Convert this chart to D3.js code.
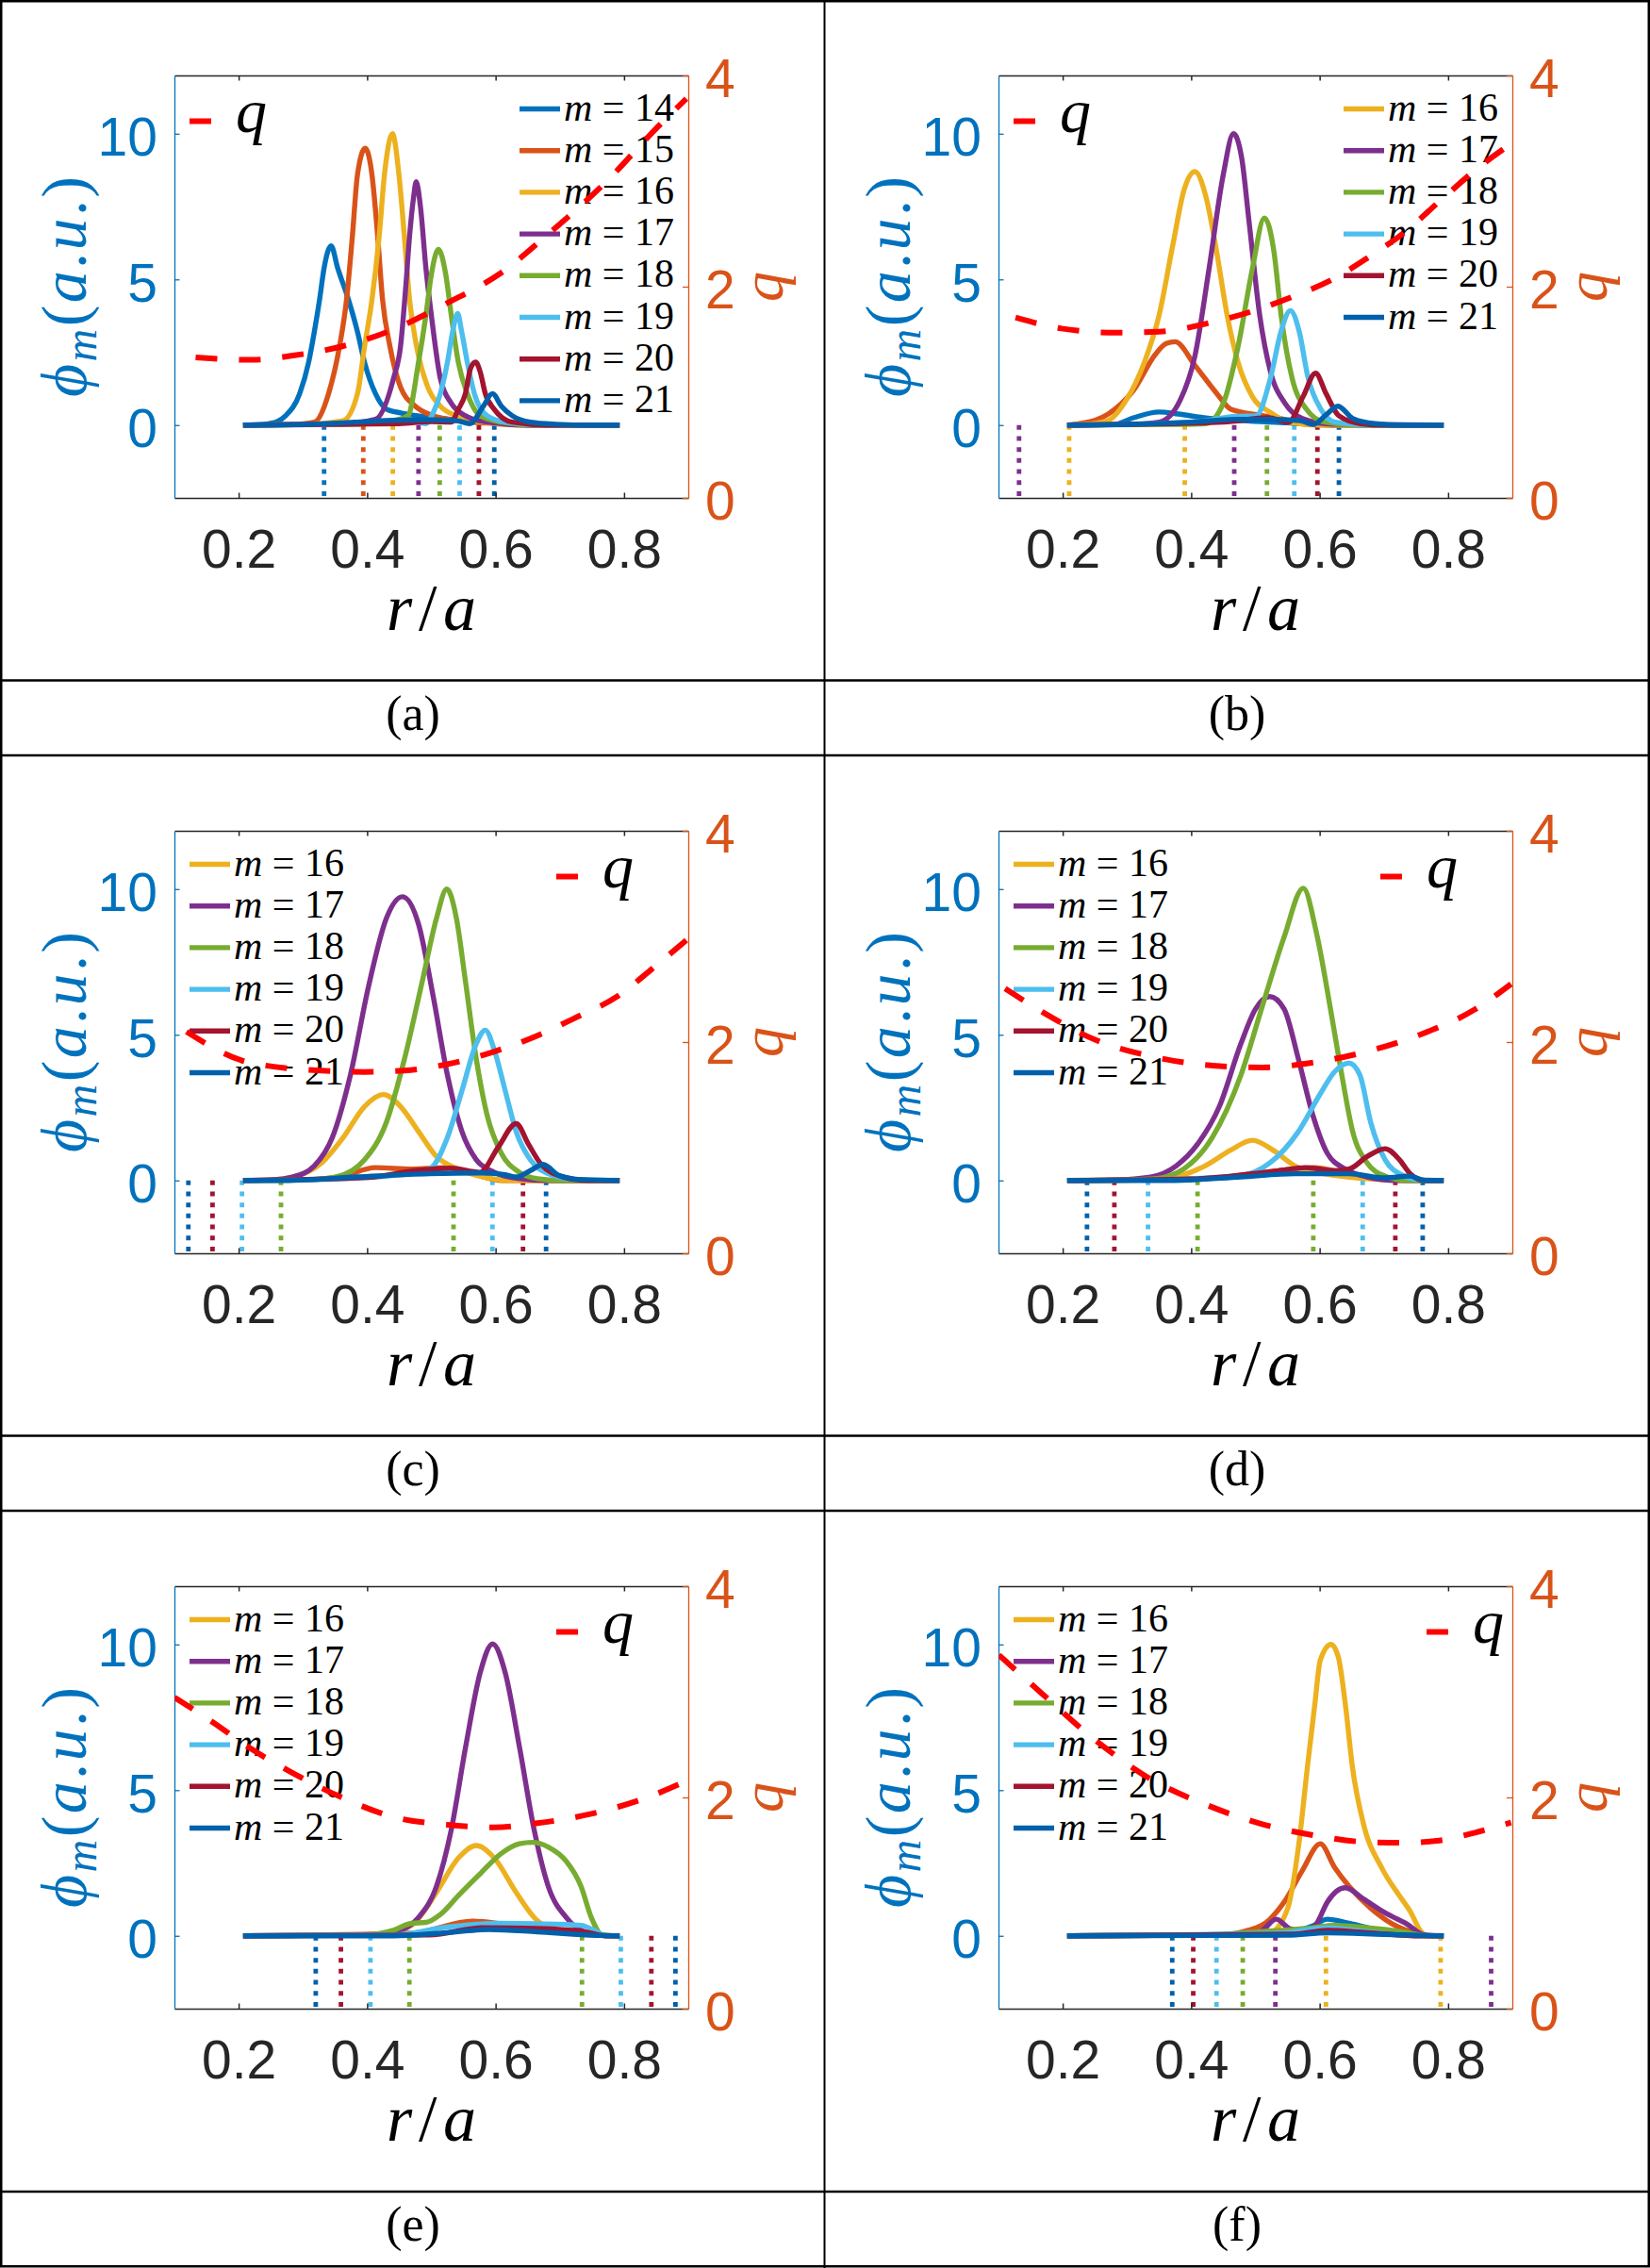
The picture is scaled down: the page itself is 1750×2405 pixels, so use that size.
<!DOCTYPE html>
<html><head><meta charset="utf-8">
<script src="https://cdn.jsdelivr.net/npm/d3@7"></script>
<style>body{margin:0;background:#fff}svg{display:block}</style>
</head><body><svg id="c" width="1750" height="2405"></svg>
<script>
// ---------- data (r/a, phi_m) ----------
const xTicks=[0.2,0.4,0.6,0.8], yTicksL=[0,5,10], yTicksR=[0,2,4];
const mColors={14:"#0072BD",15:"#D95319",16:"#EDB120",17:"#7E2F8E",18:"#77AC30",19:"#4DBEEE",20:"#A2142F",21:"#0060AB"};
const panelLabels=["(a)","(b)","(c)","(d)","(e)","(f)"];

// panel (a)
const A14=[[0.207,0],[0.24,0.03],[0.26,0.12],[0.273,0.32],[0.295,1.08],[0.309,2.16],[0.318,3.23],[0.326,4.31],[0.333,5.39],[0.344,6.15],[0.354,5.4],[0.371,4.3],[0.385,3.2],[0.396,2.15],[0.413,1.08],[0.43,0.55],[0.452,0.42],[0.486,0.3],[0.53,0.2],[0.58,0.12],[0.62,0.05],[0.7,0],[0.793,0]];
const A15=[[0.207,0],[0.28,0.02],[0.318,0.1],[0.34,1.08],[0.357,2.7],[0.368,4.31],[0.377,6.47],[0.385,8.6],[0.397,9.5],[0.4075,8.6],[0.416,6.6],[0.424,4.31],[0.4355,2.7],[0.452,1.3],[0.475,0.65],[0.503,0.32],[0.536,0.16],[0.6,0.05],[0.65,0],[0.793,0]];
const A16=[[0.207,0],[0.3,0.02],[0.3626,0.15],[0.385,1.08],[0.396,2.7],[0.4075,4.3],[0.4187,6.47],[0.427,8.6],[0.4394,10],[0.4495,8.6],[0.458,6.47],[0.466,4.31],[0.477,2.7],[0.4945,1.3],[0.514,0.65],[0.542,0.3],[0.581,0.1],[0.64,0],[0.793,0]];
const A17=[[0.207,0],[0.35,0.02],[0.413,0.2],[0.441,1.6],[0.452,2.7],[0.4605,4.85],[0.466,6.47],[0.472,7.76],[0.4764,8.35],[0.483,7.5],[0.4915,5.39],[0.5,3.77],[0.514,1.6],[0.531,0.75],[0.553,0.32],[0.587,0.1],[0.65,0],[0.793,0]];
const A18=[[0.207,0],[0.38,0.03],[0.44,0.15],[0.4635,0.32],[0.48,2.15],[0.4915,3.77],[0.5,5.17],[0.511,6.03],[0.5224,5.17],[0.531,3.77],[0.542,2.15],[0.556,1.08],[0.576,0.32],[0.609,0.1],[0.66,0],[0.793,0]];
const A19=[[0.207,0],[0.4,0.05],[0.47,0.15],[0.4915,0.05],[0.503,0.43],[0.514,1.08],[0.525,2.15],[0.5333,3.23],[0.541,3.83],[0.547,3.23],[0.556,2.15],[0.567,1.08],[0.587,0.32],[0.615,0.1],[0.67,0],[0.793,0]];
const A20=[[0.207,0],[0.45,0.05],[0.5,0.12],[0.531,0.1],[0.542,0.54],[0.553,1.08],[0.561,1.94],[0.569,2.16],[0.576,1.83],[0.584,1.08],[0.598,0.54],[0.626,0.1],[0.68,0],[0.793,0]];
const A21=[[0.207,0],[0.3,0.02],[0.38,0.1],[0.45,0.17],[0.5,0.18],[0.54,0.15],[0.56,0.05],[0.581,0.65],[0.595,1.08],[0.609,0.65],[0.626,0.32],[0.654,0.1],[0.693,0.03],[0.75,0],[0.793,0]];
const qA=[[0.133,1.33],[0.2217,1.307],[0.287,1.35],[0.361,1.435],[0.4428,1.6],[0.5247,1.845],[0.606,2.12],[0.688,2.53],[0.77,2.98],[0.852,3.51],[0.897,3.78]];
const resA=[[14,0.333],[15,0.394],[16,0.44],[17,0.48],[18,0.513],[19,0.544],[20,0.574],[21,0.598]];

// panel (b)
const B14=[[0.207,0],[0.28,0.02],[0.31,0.25],[0.35,0.45],[0.38,0.38],[0.42,0.25],[0.48,0.15],[0.55,0.08],[0.62,0],[0.793,0]];
const B15=[[0.207,0],[0.226,0.05],[0.271,0.38],[0.31,1.19],[0.344,2.42],[0.361,2.8],[0.375,2.86],[0.4058,2.05],[0.44,1.08],[0.462,0.54],[0.507,0.34],[0.54,0.22],[0.57,0.05],[0.62,0],[0.793,0]];
const B16=[[0.207,0],[0.24,0.03],[0.271,0.16],[0.299,0.86],[0.327,2.15],[0.35,3.77],[0.372,6.25],[0.389,8.08],[0.4058,8.7],[0.4226,7.87],[0.44,5.9],[0.456,3.77],[0.473,2.15],[0.4955,0.97],[0.5235,0.43],[0.5516,0.1],[0.6,0],[0.793,0]];
const B17=[[0.207,0],[0.3,0.02],[0.35,0.1],[0.383,0.86],[0.4058,2.37],[0.428,5.39],[0.45,8.6],[0.4658,10.0],[0.4787,9.16],[0.49,7.0],[0.5067,3.77],[0.5235,1.83],[0.546,0.75],[0.574,0.22],[0.62,0.03],[0.793,0]];
const B18=[[0.207,0],[0.35,0.02],[0.4226,0.05],[0.45,0.75],[0.473,2.7],[0.4955,5.39],[0.514,7.11],[0.529,5.93],[0.54,3.77],[0.557,1.62],[0.5796,0.54],[0.6076,0.1],[0.66,0],[0.793,0]];
const B19=[[0.207,0],[0.4,0.1],[0.47,0.3],[0.501,0.32],[0.5235,1.62],[0.54,3.23],[0.5544,3.93],[0.568,3.23],[0.582,1.62],[0.602,0.54],[0.624,0.1],[0.68,0],[0.793,0]];
const B20=[[0.207,0],[0.45,0.1],[0.52,0.25],[0.5516,0.1],[0.574,0.97],[0.5936,1.78],[0.61,1.08],[0.63,0.32],[0.6637,0.05],[0.7,0],[0.793,0]];
const B21=[[0.207,0],[0.3,0.02],[0.4,0.1],[0.47,0.2],[0.53,0.2],[0.57,0.15],[0.59,0.02],[0.61,0.35],[0.6284,0.65],[0.652,0.22],[0.686,0.05],[0.73,0],[0.793,0]];
const qB=[[0.1265,1.708],[0.198,1.604],[0.2824,1.565],[0.35,1.574],[0.4226,1.649],[0.4955,1.768],[0.5628,1.917],[0.6189,2.065],[0.675,2.274],[0.731,2.51],[0.787,2.81],[0.843,3.107],[0.896,3.345]];
const resB=[[17,0.132],[16,0.21],[16,0.39],[17,0.467],[18,0.518],[19,0.5605],[20,0.5965],[21,0.63]];

// panel (c)
const C15=[[0.207,0],[0.3,0.02],[0.3626,0.15],[0.413,0.44],[0.469,0.39],[0.525,0.44],[0.564,0.23],[0.61,0],[0.793,0]];
const C16=[[0.207,0],[0.25,0.02],[0.284,0.12],[0.329,0.6],[0.3626,1.47],[0.396,2.54],[0.4254,2.95],[0.452,2.54],[0.48,1.68],[0.508,0.82],[0.542,0.39],[0.581,0.12],[0.62,0],[0.793,0]];
const C17=[[0.207,0],[0.25,0.02],[0.284,0.12],[0.3177,0.5],[0.3458,1.47],[0.374,3.62],[0.402,6.64],[0.43,9.0],[0.455,9.74],[0.48,8.8],[0.503,6.3],[0.525,3.62],[0.5476,1.68],[0.57,0.71],[0.598,0.28],[0.637,0.06],[0.68,0],[0.793,0]];
const C18=[[0.207,0],[0.3,0.02],[0.351,0.12],[0.396,0.71],[0.43,2.0],[0.458,4.16],[0.486,6.85],[0.508,9.0],[0.524,10.0],[0.539,9.0],[0.553,6.85],[0.57,4.16],[0.587,2.22],[0.609,0.93],[0.637,0.28],[0.665,0.06],[0.7,0],[0.793,0]];
const C19=[[0.207,0],[0.35,0.05],[0.45,0.2],[0.497,0.39],[0.525,1.47],[0.5476,3.08],[0.57,4.7],[0.584,5.16],[0.598,4.48],[0.615,3.08],[0.632,1.68],[0.654,0.71],[0.682,0.23],[0.721,0.04],[0.793,0]];
const C20=[[0.207,0],[0.4,0.1],[0.48,0.35],[0.53,0.42],[0.5757,0.28],[0.604,1.14],[0.632,1.95],[0.651,1.25],[0.671,0.55],[0.705,0.12],[0.744,0],[0.793,0]];
const C21=[[0.207,0],[0.273,0],[0.385,0.12],[0.497,0.23],[0.58,0.26],[0.615,0.2],[0.632,0.12],[0.655,0.35],[0.6738,0.55],[0.699,0.17],[0.733,0.03],[0.793,0]];
const qC=[[0.1187,2.098],[0.2168,1.806],[0.329,1.73],[0.396,1.717],[0.458,1.73],[0.525,1.79],[0.598,1.91],[0.665,2.06],[0.721,2.22],[0.789,2.43],[0.845,2.70],[0.898,2.97]];
const resC=[[21,0.1217],[20,0.1593],[19,0.2052],[18,0.2659],[18,0.5345],[19,0.5951],[20,0.6427],[21,0.6786]];

// panel (d)
const D15=[[0.207,0],[0.42,0.06],[0.534,0.33],[0.59,0.44],[0.6458,0.23],[0.70,0.04],[0.793,0]];
const D16=[[0.207,0],[0.3,0.02],[0.365,0.09],[0.4215,0.5],[0.4607,1.03],[0.4955,1.38],[0.528,1.03],[0.5616,0.5],[0.6065,0.23],[0.6738,0.06],[0.73,0],[0.793,0]];
const D17=[[0.207,0],[0.28,0.02],[0.337,0.12],[0.3766,0.5],[0.41,1.25],[0.4439,2.54],[0.4775,4.7],[0.5,5.88],[0.5224,6.31],[0.5448,5.88],[0.567,4.16],[0.5897,2.22],[0.612,0.93],[0.64,0.39],[0.674,0.12],[0.72,0],[0.793,0]];
const D18=[[0.207,0],[0.28,0.01],[0.343,0.06],[0.388,0.39],[0.4327,1.47],[0.4775,3.62],[0.511,6.0],[0.5448,8.36],[0.5745,10.03],[0.5953,8.47],[0.6177,5.78],[0.6345,3.62],[0.6514,1.68],[0.674,0.6],[0.702,0.15],[0.735,0],[0.793,0]];
const D19=[[0.207,0],[0.35,0.03],[0.4775,0.17],[0.5224,0.6],[0.567,1.68],[0.6009,2.97],[0.6233,3.73],[0.6458,4.03],[0.6626,3.62],[0.6794,2.0],[0.702,0.71],[0.73,0.17],[0.758,0.02],[0.793,0]];
const D20=[[0.207,0],[0.4,0.05],[0.5336,0.33],[0.5785,0.44],[0.623,0.33],[0.6458,0.39],[0.674,0.82],[0.7018,1.09],[0.7243,0.71],[0.741,0.23],[0.7635,0],[0.793,0]];
const D21=[[0.207,0],[0.365,0],[0.4775,0.12],[0.5616,0.23],[0.6458,0.23],[0.702,0.09],[0.741,0.15],[0.7635,0],[0.793,0]];
const qD=[[0.1103,2.506],[0.169,2.283],[0.253,2.015],[0.3374,1.866],[0.4215,1.783],[0.511,1.759],[0.5897,1.806],[0.674,1.911],[0.758,2.074],[0.842,2.31],[0.898,2.55]];
const resD=[[21,0.2378],[20,0.2804],[19,0.3328],[18,0.4099],[18,0.5901],[19,0.667],[20,0.7178],[21,0.7604]];

// panel (e)
const E15=[[0.207,0],[0.469,0.09],[0.5645,0.5],[0.609,0.41],[0.665,0.19],[0.75,0.03],[0.793,0]];
const E16=[[0.207,0],[0.4,0.02],[0.441,0.11],[0.4747,0.46],[0.508,1.49],[0.542,2.67],[0.57,3.1],[0.598,2.67],[0.632,1.49],[0.665,0.52],[0.699,0.19],[0.749,0.09],[0.772,0],[0.793,0]];
const E17=[[0.207,0],[0.413,0.03],[0.452,0.19],[0.48,0.63],[0.508,1.7],[0.531,3.64],[0.553,6.44],[0.576,9.03],[0.5953,10.02],[0.615,9.03],[0.6375,6.44],[0.66,3.64],[0.682,1.7],[0.71,0.63],[0.738,0.14],[0.766,0.02],[0.793,0]];
const E18=[[0.207,0],[0.396,0.03],[0.441,0.19],[0.469,0.43],[0.4916,0.46],[0.514,0.73],[0.542,1.38],[0.576,2.13],[0.609,2.83],[0.637,3.16],[0.657,3.21],[0.682,3.05],[0.71,2.56],[0.733,1.7],[0.749,0.63],[0.766,0.03],[0.793,0]];
const E19=[[0.207,0],[0.441,0.03],[0.525,0.3],[0.609,0.43],[0.665,0.41],[0.733,0.36],[0.755,0.17],[0.772,0],[0.793,0]];
const E20=[[0.207,0],[0.497,0.03],[0.581,0.28],[0.665,0.25],[0.738,0.14],[0.772,0],[0.793,0]];
const E21=[[0.207,0],[0.44,0],[0.525,0.11],[0.59,0.22],[0.665,0.14],[0.75,0.02],[0.793,0]];
const qE=[[0.1002,2.946],[0.1608,2.708],[0.2168,2.47],[0.284,2.232],[0.3626,1.994],[0.441,1.815],[0.525,1.741],[0.598,1.717],[0.665,1.756],[0.749,1.845],[0.8336,1.994],[0.898,2.158]];
const resE=[[21,0.32],[20,0.3592],[19,0.4052],[18,0.4658],[18,0.7345],[19,0.795],[20,0.8425],[21,0.88]];

// panel (f)
const F14=[[0.207,0],[0.53,0.03],[0.59,0.35],[0.612,0.57],[0.6458,0.43],[0.702,0.14],[0.758,0.02],[0.793,0]];
const F15=[[0.207,0],[0.4495,0.03],[0.4887,0.19],[0.5168,0.46],[0.5448,1.16],[0.573,2.24],[0.601,3.16],[0.6233,2.35],[0.6458,1.7],[0.6794,0.95],[0.713,0.41],[0.7467,0.11],[0.769,0],[0.793,0]];
const F16=[[0.207,0],[0.5,0.02],[0.5224,0.09],[0.5504,0.95],[0.5673,3.1],[0.581,5.8],[0.5925,7.95],[0.601,9.46],[0.6177,10.0],[0.629,9.57],[0.64,7.95],[0.651,5.8],[0.668,3.86],[0.6962,2.35],[0.724,1.38],[0.741,0.84],[0.758,0.14],[0.769,0],[0.793,0]];
const F17=[[0.207,0],[0.4887,0.03],[0.511,0.19],[0.5325,0.57],[0.553,0.25],[0.578,0.15],[0.595,0.41],[0.612,1.16],[0.64,1.65],[0.668,1.27],[0.702,0.79],[0.7355,0.41],[0.7635,0.03],[0.793,0]];
const F18=[[0.207,0],[0.4215,0.03],[0.5056,0.14],[0.59,0.28],[0.6233,0.36],[0.674,0.28],[0.73,0.14],[0.769,0],[0.793,0]];
const F19=[[0.207,0],[0.5336,0.09],[0.612,0.28],[0.674,0.14],[0.758,0],[0.793,0]];
const F20=[[0.207,0],[0.5616,0.06],[0.612,0.19],[0.674,0.11],[0.758,0],[0.793,0]];
const F21=[[0.207,0],[0.55,0.02],[0.612,0.1],[0.7,0.05],[0.793,0]];
const qF=[[0.1008,3.348],[0.169,2.976],[0.2533,2.53],[0.3374,2.172],[0.4215,1.935],[0.5056,1.756],[0.5897,1.643],[0.674,1.577],[0.73,1.571],[0.786,1.592],[0.842,1.667],[0.898,1.762]];
const resF=[[21,0.3705],[20,0.4032],[19,0.4394],[18,0.4803],[17,0.5311],[16,0.6098],[16,0.7883],[17,0.867]];

const legendA=[14,15,16,17,18,19,20,21];
const legendOther=[16,17,18,19,20,21];

// ---------- layout ----------
const colX=[0,874], rowY=[0,801,1602];
const AX={l:185,t:80,w:545,h:448};
const panels=[
 {col:0,row:0,curves:[[14,A14],[15,A15],[16,A16],[17,A17],[18,A18],[19,A19],[20,A20],[21,A21]],q:qA,res:resA,leg:legendA,legX:366,qX:16},
 {col:1,row:0,curves:[[14,B14],[15,B15],[16,B16],[17,B17],[18,B18],[19,B19],[20,B20],[21,B21]],q:qB,res:resB,leg:legendOther,legX:366,qX:16},
 {col:0,row:1,curves:[[15,C15],[16,C16],[17,C17],[18,C18],[19,C19],[20,C20],[21,C21]],q:qC,res:resC,leg:legendOther,legX:16,qX:405},
 {col:1,row:1,curves:[[15,D15],[16,D16],[17,D17],[18,D18],[19,D19],[20,D20],[21,D21]],q:qD,res:resD,leg:legendOther,legX:16,qX:405},
 {col:0,row:2,curves:[[15,E15],[16,E16],[17,E17],[18,E18],[19,E19],[20,E20],[21,E21]],q:qE,res:resE,leg:legendOther,legX:16,qX:405},
 {col:1,row:2,curves:[[14,F14],[15,F15],[16,F16],[17,F17],[18,F18],[19,F19],[20,F20],[21,F21]],q:qF,res:resF,leg:legendOther,legX:16,qX:454}
];

const svg=d3.select("#c");
svg.append("rect").attr("width",1750).attr("height",2405).attr("fill","#fff");

const x=d3.scaleLinear().domain([0.1,0.9]).range([0,AX.w]);
const yL=d3.scaleLinear().domain([-2.5,12]).range([AX.h,0]);
const yR=d3.scaleLinear().domain([0,4]).range([AX.h,0]);
const lineL=d3.line().x(d=>x(d[0])).y(d=>yL(d[1])).curve(d3.curveMonotoneX);
const lineQ=d3.line().x(d=>x(d[0])).y(d=>yR(d[1])).curve(d3.curveMonotoneX);
const SANS="'Liberation Sans', Arial, Helvetica, sans-serif";
const SERIF="'Liberation Serif', 'DejaVu Serif', serif";

panels.forEach((p,i)=>{
  const g=svg.append("g").attr("transform",`translate(${colX[p.col]+AX.l},${rowY[p.row]+AX.t})`);
  const cid="clip"+i;
  g.append("clipPath").attr("id",cid).append("rect").attr("width",AX.w).attr("height",AX.h);
  const pg=g.append("g").attr("clip-path",`url(#${cid})`);
  // resonance dotted lines
  pg.selectAll("line.res").data(p.res).join("line")
    .attr("x1",d=>x(d[1])).attr("x2",d=>x(d[1]))
    .attr("y1",yL(0)).attr("y2",yL(-2.5))
    .attr("stroke",d=>mColors[d[0]]).attr("stroke-width",4.8).attr("stroke-dasharray","5,6.7");
  // mode curves
  pg.selectAll("path.mode").data(p.curves).join("path")
    .attr("d",d=>lineL(d[1])).attr("fill","none")
    .attr("stroke",d=>mColors[d[0]]).attr("stroke-width",5.4).attr("stroke-linejoin","round");

  // axes
  const bx=g.append("g").attr("transform",`translate(0,${AX.h})`)
    .call(d3.axisBottom(x).tickValues(xTicks).tickFormat(d3.format(".1f")).tickSizeInner(-5.5).tickSizeOuter(0));
  bx.selectAll("text").attr("y",74).attr("dy",null).attr("fill","#262626").style("font-family",SANS).style("font-size","57px");
  bx.selectAll("line,path").attr("stroke","#262626").attr("stroke-width",1.5);
  const tx=g.append("g").call(d3.axisTop(x).tickValues(xTicks).tickFormat("").tickSizeInner(-5.5).tickSizeOuter(0));
  tx.selectAll("line,path").attr("stroke","#262626").attr("stroke-width",1.5);
  const ly=g.append("g").call(d3.axisLeft(yL).tickValues(yTicksL).tickFormat(d3.format("d")).tickSizeInner(-5.5).tickSizeOuter(0));
  ly.selectAll("text").attr("x",-18).attr("dy","0.4em").attr("fill","#0072BD").style("font-family",SANS).style("font-size","57px");
  ly.selectAll("line,path").attr("stroke","#0072BD").attr("stroke-width",1.3);
  const ry=g.append("g").attr("transform",`translate(${AX.w},0)`).call(d3.axisRight(yR).tickValues(yTicksR).tickFormat(d3.format("d")).tickSizeInner(-6).tickSizeOuter(0));
  ry.selectAll("text").attr("x",18).attr("dy","0.4em").attr("fill","#D95319").style("font-family",SANS).style("font-size","57px");
  ry.selectAll("line,path").attr("stroke","#D95319").attr("stroke-width",1.3);
  g.selectAll(".domain").attr("fill","none");

  // axis labels (start-anchored so the stretched length stays centred)
  const yl=g.append("text").attr("transform",`translate(-94,${AX.h/2+117}) rotate(-90)`).attr("text-anchor","start")
    .attr("fill","#0072BD").style("font-family",SERIF).style("font-size","68px")
    .attr("textLength",234).attr("lengthAdjust","spacing");
  yl.append("tspan").attr("font-style","italic").text("ϕ");
  yl.append("tspan").attr("font-style","italic").style("font-size","48px").attr("dy",11).text("m");
  yl.append("tspan").attr("dy",-11).text("(");
  yl.append("tspan").attr("font-style","italic").text("a");
  yl.append("tspan").text(".");
  yl.append("tspan").attr("font-style","italic").text("u");
  yl.append("tspan").text(".)");
  const xl=g.append("text").attr("x",AX.w/2-47.5).attr("y",588).attr("text-anchor","start")
    .attr("fill","#000").style("font-family",SERIF).style("font-size","70px")
    .attr("textLength",95).attr("lengthAdjust","spacing");
  xl.append("tspan").attr("font-style","italic").text("r");
  xl.append("tspan").text("/");
  xl.append("tspan").attr("font-style","italic").text("a");
  g.append("text").attr("transform",`translate(${AX.w+100},${AX.h/2}) rotate(-90)`).attr("text-anchor","middle")
    .attr("fill","#D95319").style("font-family",SERIF).style("font-size","64px").attr("font-style","italic").text("q");

  // legend (modes)
  const lg=g.append("g");
  p.leg.forEach((m,k)=>{
    const yy=35.5+k*44.2;
    lg.append("line").attr("x1",p.legX).attr("x2",p.legX+43).attr("y1",yy).attr("y2",yy)
      .attr("stroke",mColors[m]).attr("stroke-width",5.4);
    const t=lg.append("text").attr("x",p.legX+47).attr("y",yy+12).attr("fill","#000")
      .style("font-family",SERIF).style("font-size","42px")
      .attr("textLength",117).attr("lengthAdjust","spacing");
    t.append("tspan").attr("font-style","italic").text("m");
    t.append("tspan").text(" = "+m);
  });

  // q curve (right axis) on top
  g.append("path").attr("clip-path",`url(#${cid})`).attr("d",lineQ(p.q)).attr("fill","none")
    .attr("stroke","#FF0000").attr("stroke-width",6).attr("stroke-dasharray","23,23");
  // q legend
  g.append("line").attr("x1",p.qX).attr("x2",p.qX+23).attr("y1",48.5).attr("y2",48.5)
    .attr("stroke","#FF0000").attr("stroke-width",6);
  g.append("text").attr("x",p.qX+49).attr("y",60).attr("fill","#000").style("font-family",SERIF)
    .style("font-size","66px").attr("font-style","italic").text("q");

  // panel caption
  svg.append("text").attr("x",colX[p.col]+438).attr("y",rowY[p.row]+774).attr("text-anchor","middle")
    .attr("fill","#000").style("font-family",SERIF).style("font-size","52px").text(panelLabels[i]);
});

// table grid
const grid=svg.append("g").attr("stroke","#000").attr("fill","none");
grid.append("rect").attr("x",1.25).attr("y",1.25).attr("width",1747.5).attr("height",2402).attr("stroke-width",2.5);
grid.append("line").attr("x1",874.5).attr("x2",874.5).attr("y1",0).attr("y2",2405).attr("stroke-width",2);
[721.5,801,1522.5,1602,2324].forEach(yv=>{
  grid.append("line").attr("x1",0).attr("x2",1750).attr("y1",yv).attr("y2",yv).attr("stroke-width",2.5);
});
</script></body></html>
